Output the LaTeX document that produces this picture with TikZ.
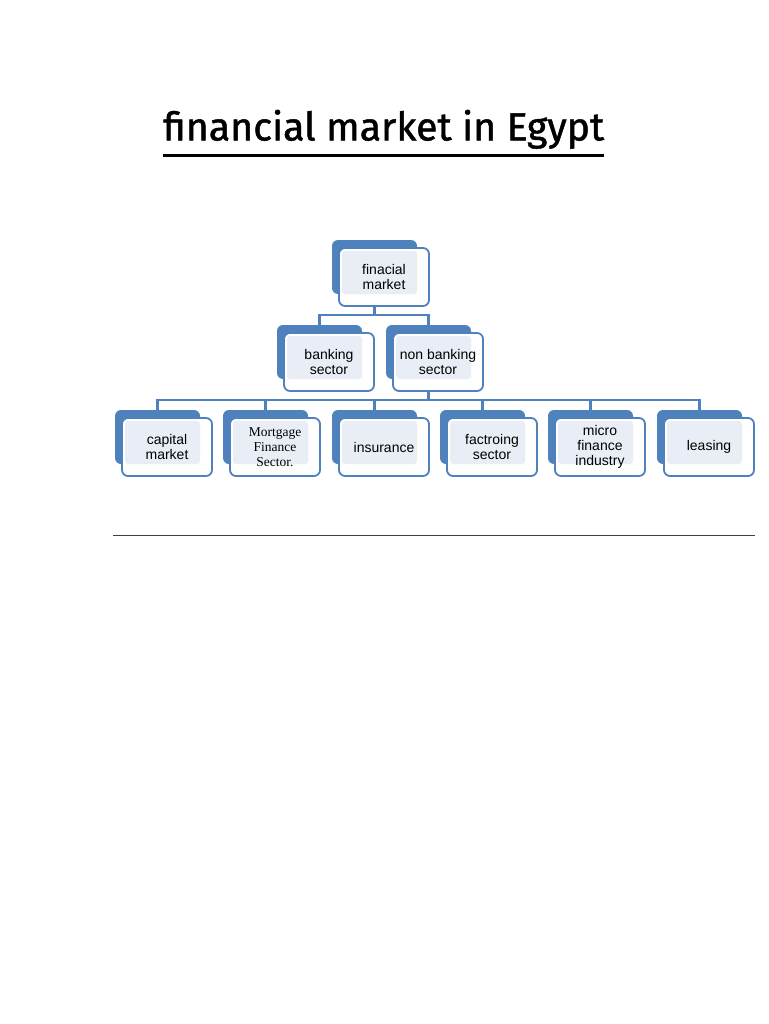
\documentclass[tikz,border=0pt]{standalone}
\usepackage{fontspec}
\setmainfont{Liberation Sans}
\newfontfamily\serifbox{Liberation Serif}
\newfontfamily\titlefont[FakeBold=1.2]{Fira Sans}
\usetikzlibrary{calc}
\definecolor{obblue}{HTML}{4F81BD}
\definecolor{oblight}{HTML}{E9EEF6}
\tikzset{
  backbox/.style={fill=obblue, rounded corners=6pt},
  frontbox/.style={fill=white, draw=obblue, line width=1.8pt, rounded corners=6pt},
  lightbox/.style={fill=oblight, rounded corners=3pt},
  boxtext/.style={align=center, font=\fontsize{14}{15}\selectfont, inner sep=0pt},
  conn/.style={draw=obblue, line width=2.2pt}
}
\newcommand\orgbox[4]{%
  \fill[backbox] (#2,#3) rectangle ++(85,54);
  \path[frontbox] (#2+7,#3+8) rectangle ++(90,58);
  \fill[lightbox] (#2+10,#3+11) rectangle (#2+85,#3+54);
  \node[boxtext] (#1) at (#2+52,#3+37) {#4};
  \coordinate (#1-top) at (#2+42.5,#3);
  \coordinate (#1-bot) at (#2+42.5,#3+66);
}
\begin{document}
\begin{tikzpicture}[x=1pt,y=-1pt]
\useasboundingbox (0,0) rectangle (768,1024);
\fill[white] (0,0) rectangle (768,1024);
% title
\node[anchor=south west, inner sep=0pt] (title) at (163,149) {\resizebox{441pt}{!}{\titlefont\fontsize{48}{50}\selectfont financial market in Egypt}};
\draw[line width=3pt] (163,156) -- (604,156);
% boxes
\orgbox{fm}{332}{240}{finacial\\market}
\orgbox{bank}{277}{325}{banking\\sector}
\orgbox{nonbank}{386}{325}{non banking\\sector}
\orgbox{cap}{115}{410}{capital\\market}
\orgbox{mort}{223}{410}{\serifbox\fontsize{13.5}{14}\selectfont Mortgage\\\serifbox\fontsize{13.5}{14}\selectfont Finance\\\serifbox\fontsize{13.5}{14}\selectfont Sector.}
\orgbox{ins}{332}{410}{insurance}
\orgbox{fact}{440}{410}{factroing\\sector}
\orgbox{micro}{548}{410}{micro\\finance\\industry}
\orgbox{leas}{657}{410}{leasing}
% connectors
\draw[conn] (fm-bot) -- ++(0,9) -| (bank-top);
\draw[conn] (fm-bot) -- ++(0,9) -| (nonbank-top);
\foreach \c in {cap,mort,ins,fact,micro,leas}{
  \draw[conn] (nonbank-bot) -- ++(0,9) -| (\c-top);
}
% bottom rule
\draw[line width=0.8pt, color=black!75] (113,535) -- (755,535);
\end{tikzpicture}
\end{document}
